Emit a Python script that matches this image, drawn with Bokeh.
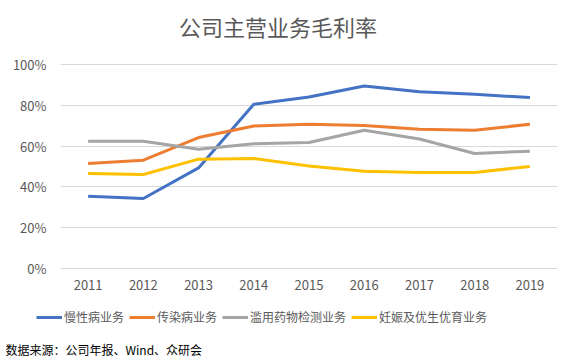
from bokeh.plotting import figure
from bokeh.layouts import column, row
from bokeh.models import (FactorRange, Range1d, FixedTicker, PrintfTickFormatter,
                          Legend, LegendItem, Label)
from bokeh.embed import file_html
from bokeh.resources import INLINE

# Gross margin (%) by business line, 2011-2019
years = ["2011", "2012", "2013", "2014", "2015", "2016", "2017", "2018", "2019"]
chronic = [35.4, 34.3, 49.3, 80.5, 84.1, 89.5, 86.6, 85.4, 83.8]
infectious = [51.5, 53.1, 64.2, 69.9, 70.7, 70.1, 68.3, 67.8, 70.7]
drug_test = [62.4, 62.4, 58.5, 61.1, 61.8, 67.8, 63.5, 56.4, 57.5]
pregnancy = [46.6, 46.1, 53.6, 53.9, 50.3, 47.7, 47.1, 47.1, 50.0]

series_names = ["慢性病业务", "传染病业务", "滥用药物检测业务", "妊娠及优生优育业务"]
series_values = [chronic, infectious, drug_test, pregnancy]
colors = ["#4472C4", "#ED7D31", "#A5A5A5", "#FFC000"]
y_ticks = [0, 20, 40, 60, 80, 100]

title_text = "公司主营业务毛利率"
source_text = "数据来源：公司年报、Wind、众研会"

FONT = "Noto Sans CJK SC"
W = 578


def blank_panel(height):
    """A full-width strip whose data units equal pixels, for text and legend."""
    b = figure(width=W, height=height, x_range=Range1d(0, W),
               y_range=Range1d(0, height), output_backend="svg",
               toolbar_location=None, x_axis_location=None, y_axis_location=None,
               min_border_left=0, min_border_right=0, min_border_top=0,
               min_border_bottom=0)
    b.outline_line_color = None
    b.xgrid.grid_line_color = None
    b.ygrid.grid_line_color = None
    return b


# ---- title strip ----
t = blank_panel(50)
t.add_layout(Label(x=277.5, y=25, text=title_text, text_align="center",
                   text_baseline="middle", text_font=FONT,
                   text_font_size="22px", text_color="#595959"))

# ---- main chart ----
p = figure(width=W, height=250, x_range=FactorRange(*years),
           y_range=Range1d(-1, 101), output_backend="svg", toolbar_location=None,
           min_border_left=60, min_border_right=21, min_border_top=12,
           min_border_bottom=30)
p.outline_line_color = None
p.background_fill_color = "white"
p.border_fill_color = "white"

for vals, c in zip(series_values, colors):
    p.line(years, vals, line_color=c, line_width=3)

p.yaxis.ticker = FixedTicker(ticks=y_ticks)
p.yaxis.formatter = PrintfTickFormatter(format="%d%%")
for ax in (p.xaxis, p.yaxis):
    ax.axis_line_color = None
    ax.major_tick_line_color = None
    ax.minor_tick_line_color = None
    ax.major_tick_out = 0
    ax.major_tick_in = 0
    ax.major_label_text_color = "#595959"
    ax.major_label_text_font = FONT
    ax.major_label_text_font_size = "13px"
p.yaxis.major_label_standoff = 14
p.xaxis.major_label_standoff = 9

p.xgrid.grid_line_color = None
p.ygrid.ticker = FixedTicker(ticks=y_ticks)
p.ygrid.grid_line_color = "#D9D9D9"
p.ygrid.grid_line_width = 1

# ---- legend row and source note ----
f = blank_panel(62)
# legend keys: the same series, placed on year positions that lie outside this
# strip's 0..578 pixel range, so only their legend swatches show
year_nums = [int(y) for y in years]
keys = [f.line(x=year_nums, y=vals, line_color=c, line_width=3)
        for vals, c in zip(series_values, colors)]
legend = Legend(items=[LegendItem(label=n, renderers=[r])
                       for n, r in zip(series_names, keys)],
                orientation="horizontal", location=(36, 37))
legend.border_line_color = None
legend.background_fill_alpha = 0
legend.padding = 0
legend.margin = 0
legend.glyph_width = 26
legend.glyph_height = 12
legend.label_standoff = 2
legend.spacing = 5
legend.label_height = 16
legend.label_text_font = FONT
legend.label_text_font_size = "12px"
legend.label_text_color = "#595959"
f.add_layout(legend, "center")

f.add_layout(Label(x=5, y=13, text=source_text, text_align="left",
                   text_baseline="middle", text_font=FONT,
                   text_font_size="12px", text_color="#000000"))

open("out.html", "w").write(
    file_html(column(row(t), p, row(f), spacing=0), INLINE))
